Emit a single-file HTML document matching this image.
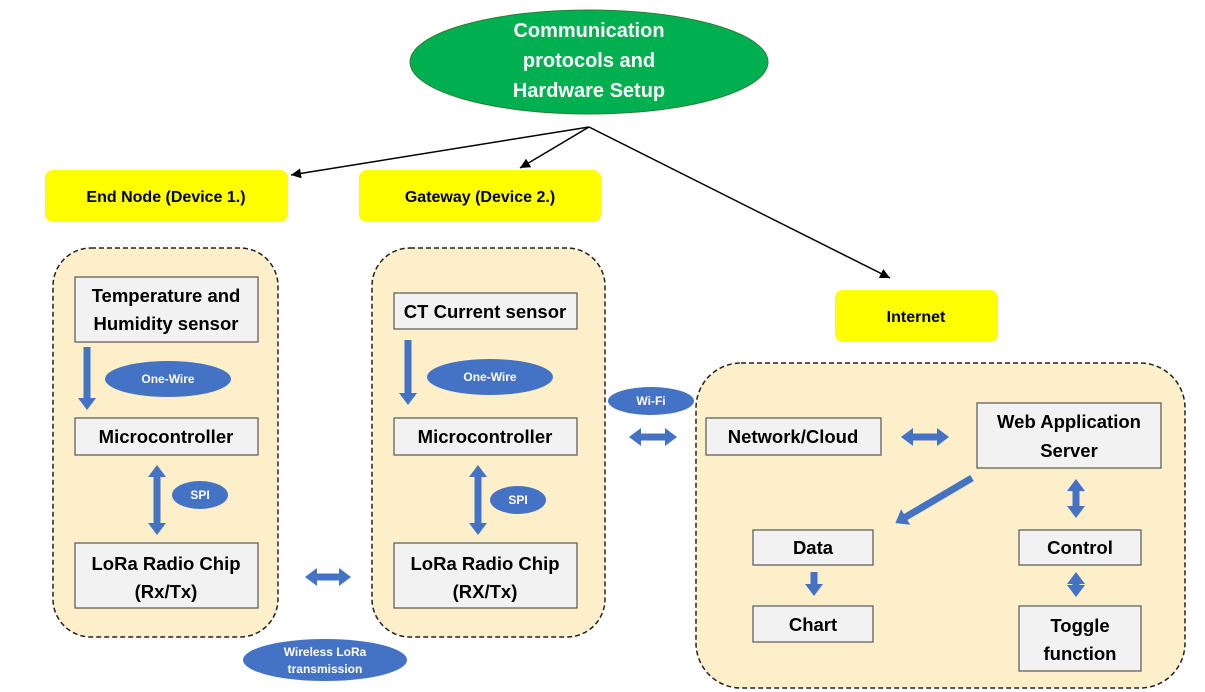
<!DOCTYPE html>
<html><head><meta charset="utf-8"><style>
html,body{margin:0;padding:0;background:#fff;}
svg{display:block;font-family:"Liberation Sans",sans-serif;font-weight:bold;}
</style></head><body>
<svg width="1205" height="692" viewBox="0 0 1205 692" xmlns="http://www.w3.org/2000/svg">
<defs>
<marker id="ah" markerUnits="userSpaceOnUse" markerWidth="12" markerHeight="12" refX="10" refY="5" orient="auto"><path d="M0,0 L10,5 L0,10 z" fill="#000"/></marker>
<marker id="b" markerUnits="userSpaceOnUse" markerWidth="14" markerHeight="18" refX="2" refY="9" orient="auto-start-reverse"><path d="M0,0 L12,9 L0,18 z" fill="#4472c4"/></marker>
</defs>
<ellipse cx="589" cy="62" rx="179" ry="52" fill="#00b050" stroke="#2e7d32" stroke-width="1"/>
<g fill="#fff" font-size="20" text-anchor="middle">
<text x="589" y="37">Communication</text>
<text x="589" y="67">protocols and</text>
<text x="589" y="97">Hardware Setup</text>
</g>
<g stroke="#000" stroke-width="1.5" marker-end="url(#ah)">
<line x1="589" y1="127" x2="291" y2="175"/>
<line x1="589" y1="127" x2="520" y2="168"/>
<line x1="589" y1="127" x2="890" y2="278"/>
</g>
<g fill="#ffff00">
<rect x="45" y="170" width="243" height="52" rx="8"/>
<rect x="359" y="170" width="242" height="52" rx="8"/>
<rect x="835" y="290" width="163" height="52" rx="8"/>
</g>
<g font-size="16" text-anchor="middle" fill="#000">
<text x="166" y="202">End Node (Device 1.)</text>
<text x="480" y="202">Gateway (Device 2.)</text>
<text x="916" y="322">Internet</text>
</g>
<g fill="#fdefc9" stroke="#222" stroke-width="1.5" stroke-dasharray="5,3">
<rect x="53" y="248" width="225" height="389" rx="38"/>
<rect x="372" y="248" width="233" height="389" rx="38"/>
<rect x="696" y="363" width="489" height="325" rx="45"/>
</g>
<g fill="#f2f2f2" stroke="#555" stroke-width="1.2">
<rect x="75" y="277" width="183" height="65"/>
<rect x="75" y="418" width="183" height="37"/>
<rect x="75" y="543" width="183" height="65"/>
<rect x="394" y="293" width="183" height="36"/>
<rect x="394" y="418" width="183" height="37"/>
<rect x="394" y="543" width="183" height="65"/>
<rect x="706" y="418" width="175" height="37"/>
<rect x="977" y="403" width="184" height="65"/>
<rect x="753" y="530" width="120" height="35"/>
<rect x="753" y="606" width="120" height="36"/>
<rect x="1019" y="530" width="122" height="35"/>
<rect x="1019" y="606" width="122" height="65"/>
</g>
<g font-size="18.5" text-anchor="middle" fill="#000">
<text x="166" y="302">Temperature and</text>
<text x="166" y="330">Humidity sensor</text>
<text x="166" y="443">Microcontroller</text>
<text x="166" y="570">LoRa Radio Chip</text>
<text x="166" y="598">(Rx/Tx)</text>
<text x="485" y="318">CT Current sensor</text>
<text x="485" y="443">Microcontroller</text>
<text x="485" y="570">LoRa Radio Chip</text>
<text x="485" y="598">(RX/Tx)</text>
<text x="793" y="443">Network/Cloud</text>
<text x="1069" y="428">Web Application</text>
<text x="1069" y="457">Server</text>
<text x="813" y="554">Data</text>
<text x="813" y="631">Chart</text>
<text x="1080" y="554">Control</text>
<text x="1080" y="632">Toggle</text>
<text x="1080" y="660">function</text>
</g>
<g stroke="#4472c4" stroke-width="7" fill="none">
<line x1="87" y1="347" x2="87" y2="400" marker-end="url(#b)"/>
<line x1="157" y1="475" x2="157" y2="525" marker-start="url(#b)" marker-end="url(#b)"/>
<line x1="408" y1="340" x2="408" y2="395" marker-end="url(#b)"/>
<line x1="478" y1="475" x2="478" y2="525" marker-start="url(#b)" marker-end="url(#b)"/>
<line x1="315" y1="577" x2="341" y2="577" marker-start="url(#b)" marker-end="url(#b)"/>
<line x1="639" y1="437" x2="667" y2="437" marker-start="url(#b)" marker-end="url(#b)"/>
<line x1="911" y1="437" x2="939" y2="437" marker-start="url(#b)" marker-end="url(#b)"/>
<line x1="972" y1="478" x2="904" y2="518" marker-end="url(#b)"/>
<line x1="1076" y1="489" x2="1076" y2="508" marker-start="url(#b)" marker-end="url(#b)"/>
<line x1="814" y1="572" x2="814" y2="586" marker-end="url(#b)"/>
<line x1="1076" y1="582" x2="1076" y2="587" marker-start="url(#b)" marker-end="url(#b)"/>
</g>
<g fill="#4472c4">
<ellipse cx="168" cy="379" rx="63" ry="18"/>
<ellipse cx="200" cy="495" rx="28" ry="14"/>
<ellipse cx="490" cy="377" rx="63" ry="18"/>
<ellipse cx="518" cy="500" rx="28" ry="14"/>
<ellipse cx="325" cy="660" rx="82" ry="21"/>
<ellipse cx="651" cy="401" rx="43" ry="14"/>
</g>
<g fill="#fff" font-size="12" text-anchor="middle">
<text x="168" y="383">One-Wire</text>
<text x="200" y="499">SPI</text>
<text x="490" y="381">One-Wire</text>
<text x="518" y="504">SPI</text>
<text x="325" y="656">Wireless LoRa</text>
<text x="325" y="673">transmission</text>
<text x="651" y="405">Wi-Fi</text>
</g>
</svg>
</body></html>
